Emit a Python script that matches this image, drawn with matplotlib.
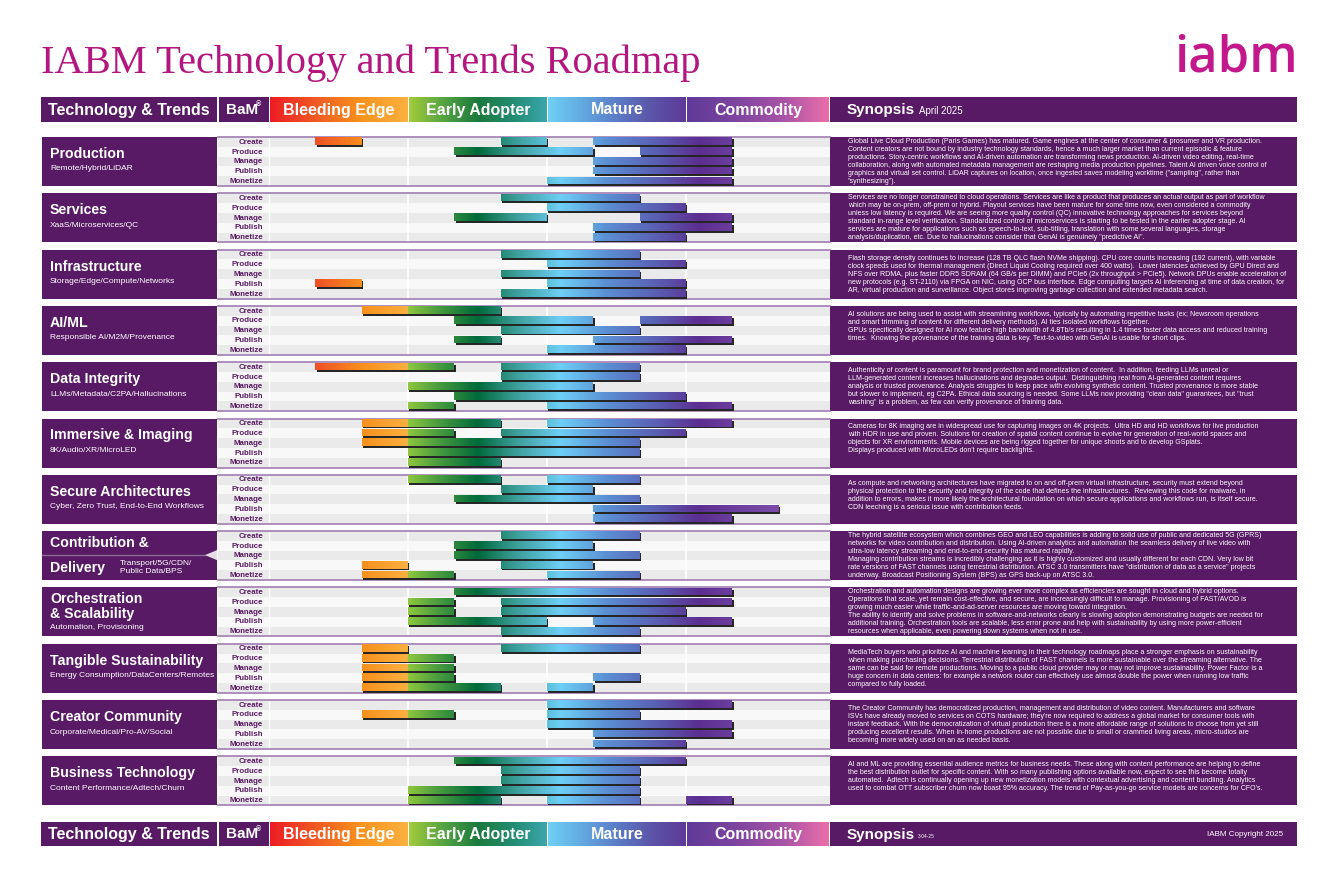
import numpy as np
import matplotlib.pyplot as plt
from matplotlib.colors import LinearSegmentedColormap
from matplotlib.patches import Rectangle, Polygon
from matplotlib.path import Path

plt.rcParams['font.family'] = ['Liberation Sans', 'DejaVu Sans']

title = "IABM Technology and Trends Roadmap"
stages = ["Bleeding Edge", "Early Adopter", "Mature", "Commodity"]
phases = ["Create", "Produce", "Manage", "Publish", "Monetize"]

categories = ["Production", "Services", "Infrastructure", "AI/ML", "Data Integrity",
              "Immersive & Imaging", "Secure Architectures", "Contribution &\nDelivery",
              "Orchestration\n& Scalability", "Tangible Sustainability",
              "Creator Community", "Business Technology"]
subtitles = ["Remote/Hybrid/LiDAR", "XaaS/Microservices/QC", "Storage/Edge/Compute/Networks",
             "Responsible AI/M2M/Provenance", "LLMs/Metadata/C2PA/Hallucinations",
             "8K/Audio/XR/MicroLED", "Cyber, Zero Trust, End-to-End Workflows",
             "Transport/5G/CDN/\nPublic Data/BPS", "Automation, Provisioning",
             "Energy Consumption/DataCenters/Remotes", "Corporate/Medical/Pro-AV/Social",
             "Content Performance/Adtech/Churn"]

# bar spans per phase, in thirds of a stage (0 = start of Bleeding Edge, 12 = end of Commodity)
production = [[(1, 2), (5, 6), (7, 10)], [(4, 7), (8, 10)], [(7, 10)], [(7, 10)], [(6, 10)]]
services = [[(5, 8)], [(6, 9)], [(4, 6), (8, 10)], [(7, 10)], [(7, 9)]]
infrastructure = [[(5, 8)], [(6, 9)], [(5, 8)], [(1, 2), (6, 9)], [(5, 9)]]
ai_ml = [[(2, 5)], [(4, 7), (8, 10)], [(5, 8)], [(4, 5), (7, 10)], [(6, 9)]]
data_integrity = [[(1, 4), (5, 8)], [(5, 8)], [(3, 7)], [(4, 9)], [(3, 4), (6, 10)]]
immersive = [[(2, 5), (6, 10)], [(2, 4), (5, 9)], [(2, 8)], [(3, 8)], [(3, 5)]]
secure = [[(3, 5), (6, 8)], [(5, 7)], [(4, 8)], [(7, 11)], [(7, 10)]]
contribution = [[(5, 8)], [(4, 7)], [(4, 8)], [(2, 3), (5, 7)], [(2, 4), (6, 8)]]
orchestration = [[(4, 10)], [(3, 4), (5, 10)], [(3, 4), (5, 9)], [(3, 6), (7, 10)], [(5, 8)]]
sustainability = [[(2, 3), (5, 8)], [(2, 4)], [(2, 4)], [(2, 4), (7, 8)], [(2, 5), (6, 7)]]
creator = [[(6, 10)], [(2, 4), (6, 8)], [(6, 10)], [(7, 10)], [(7, 9)]]
business = [[(4, 9)], [(5, 8)], [(5, 8)], [(3, 8)], [(3, 5), (6, 8), (9, 10)]]

all_bars = [production, services, infrastructure, ai_ml, data_integrity, immersive,
            secure, contribution, orchestration, sustainability, creator, business]

synopsis = [
    ["Global Live Cloud Production (Paris Games) has matured. Game engines at the center of consumer & prosumer and VR production.",
     "Content creators are not bound by industry technology standards, hence a much larger market than current episodic & feature",
     "productions. Story-centric workflows and AI-driven automation are transforming news production. AI-driven video editing, real-time",
     "collaboration, along with automated metadata management are reshaping media production pipelines. Talent AI driven voice control of",
     "graphics and virtual set control. LiDAR captures on location, once ingested saves modeling worktime (\"sampling\", rather than",
     "\"synthesizing\")."],
    ["Services are no longer constrained to cloud operations. Services are like a product that produces an actual output as part of workflow",
     "which may be on-prem, off-prem or hybrid. Playout services have been mature for some time now, even considered a commodity",
     "unless low latency is required. We are seeing more quality control (QC) innovative technology approaches for services beyond",
     "standard in-range level verification. Standardized control of microservices is starting to be tested in the earlier adopter stage. AI",
     "services are mature for applications such as speech-to-text, sub-titling, translation with some several languages, storage",
     "analysis/duplication, etc. Due to hallucinations consider that GenAI is genuinely \"predictive AI\"."],
    ["Flash storage density continues to increase (128 TB QLC flash NVMe shipping). CPU core counts increasing (192 current), with variable",
     "clock speeds used for thermal management (Direct Liquid Cooling required over 400 watts).  Lower latencies achieved by GPU Direct and",
     "NFS over RDMA, plus faster DDR5 SDRAM (64 GB/s per DIMM) and PCIe6 (2x throughput > PCIe5). Network DPUs enable acceleration of",
     "new protocols (e.g. ST-2110) via FPGA on NIC, using OCP bus interface. Edge computing targets AI inferencing at time of data creation, for",
     "AR, virtual production and surveillance. Object stores improving garbage collection and extended metadata search."],
    ["AI solutions are being used to assist with streamlining workflows, typically by automating repetitive tasks (ex; Newsroom operations",
     "and smart trimming of content for different delivery methods). AI ties isolated workflows together.",
     "GPUs specifically designed for AI now feature high bandwidth of 4.8Tb/s resulting in 1.4 times faster data access and reduced training",
     "times.  Knowing the provenance of the training data is key. Text-to-video with GenAI is usable for short clips."],
    ["Authenticity of content is paramount for brand protection and monetization of content.  In addition, feeding LLMs unreal or",
     "LLM-generated content increases hallucinations and degrades output.  Distinguishing real from AI-generated content requires",
     "analysis or trusted provenance. Analysis struggles to keep pace with evolving synthetic content. Trusted provenance is more stable",
     "but slower to implement, eg C2PA. Ethical data sourcing is needed. Some LLMs now providing \"clean data\" guarantees, but \"trust",
     "washing\" is a problem, as few can verify provenance of training data."],
    ["Cameras for 8K imaging are in widespread use for capturing images on 4K projects.  Ultra HD and HD workflows for live production",
     "with HDR in use and proven. Solutions for creation of spatial content continue to evolve for generation of real-world spaces and",
     "objects for XR environments. Mobile devices are being rigged together for unique shoots and to develop GSplats.",
     "Displays produced with MicroLEDs don't require backlights."],
    ["As compute and networking architectures have migrated to on and off-prem virtual infrastructure, security must extend beyond",
     "physical protection to the security and integrity of the code that defines the infrastructures.  Reviewing this code for malware, in",
     "addition to errors, makes it more likely the architectural foundation on which secure applications and workflows run, is itself secure.",
     "CDN leeching is a serious issue with contribution feeds."],
    ["The hybrid satellite ecosystem which combines GEO and LEO capabilities is adding to solid use of public and dedicated 5G (GPRS)",
     "networks for video contribution and distribution. Using AI-driven analytics and automation the seamless delivery of live video with",
     "ultra-low latency streaming and end-to-end security has matured rapidly.",
     "Managing contribution streams is incredibly challenging as it is highly customized and usually different for each CDN. Very low bit",
     "rate versions of FAST channels using terrestrial distribution. ATSC 3.0 transmitters have \"distribution of data as a service\" projects",
     "underway. Broadcast Positioning System (BPS) as GPS back-up on ATSC 3.0."],
    ["Orchestration and automation designs are growing ever more complex as efficiencies are sought in cloud and hybrid options.",
     "Operations that scale, yet remain cost-effective, and secure, are increasingly difficult to manage. Provisioning of FAST/AVOD is",
     "growing much easier while traffic-and-ad-server resources are moving toward integration.",
     "The ability to identify and solve problems in software-and-networks clearly is slowing adoption demonstrating budgets are needed for",
     "additional training. Orchestration tools are scalable, less error prone and help with sustainability by using more power-efficient",
     "resources when applicable, even powering down systems when not in use."],
    ["MediaTech buyers who prioritize AI and machine learning in their technology roadmaps place a stronger emphasis on sustainability",
     "when making purchasing decisions. Terrestrial distribution of FAST channels is more sustainable over the streaming alternative. The",
     "same can be said for remote productions. Moving to a public cloud provider may or may not improve sustainability. Power Factor is a",
     "huge concern in data centers: for example a network router can effectively use almost double the power when running low traffic",
     "compared to fully loaded."],
    ["The Creator Community has democratized production, management and distribution of video content. Manufacturers and software",
     "ISVs have already moved to services on COTS hardware; they're now required to address a global market for consumer tools with",
     "instant feedback. With the democratization of virtual production there is a more affordable range of solutions to choose from yet still",
     "producing excellent results. When in-home productions are not possible due to small or crammed living areas, micro-studios are",
     "becoming more widely used on an as needed basis."],
    ["AI and ML are providing essential audience metrics for business needs. These along with content performance are helping to define",
     "the best distribution outlet for specific content. With so many publishing options available now, expect to see this become totally",
     "automated.  Adtech is continually opening up new monetization models with contextual advertising and content bundling. Analytics",
     "used to combat OTT subscriber churn now boast 95% accuracy. The trend of Pay-as-you-go service models are concerns for CFO's."],
]

# colours
PURPLE = '#581a64'
MAGENTA = '#b3177f'
LABEL_C = '#5a1a64'
BORDER = '#a07db1'
STRIPES = ['#eaeaea', '#f8f8f8']

bar_cmap = LinearSegmentedColormap.from_list('bars', [
    (0, '#ed1c24'), (1 / 12, '#ef5126'), (2 / 12, '#f7901e'), (2.97 / 12, '#fbb040'),
    (3 / 12, '#8cc63f'), (3.7 / 12, '#44993e'), (4.5 / 12, '#006a3a'), (5.3 / 12, '#3a9c96'),
    (6.3 / 12, '#6dcff6'), (7.3 / 12, '#5b8fd3'), (8.3 / 12, '#5a62b6'), (9.3 / 12, '#5c2e91'),
    (10 / 12, '#6a3d9e'), (11 / 12, '#7c4ba8'), (1, '#8a55b0')])
stage_cmaps = [
    LinearSegmentedColormap.from_list('s0', ['#ed1c24', '#f15a24', '#f7941d', '#fbb040']),
    LinearSegmentedColormap.from_list('s1', ['#a3cb3b', '#55a443', '#1b7a3d', '#238b70', '#3ba6ad']),
    LinearSegmentedColormap.from_list('s2', ['#6fd0f5', '#62a9e0', '#5b7cc6', '#5b55a8', '#5e3a98']),
    LinearSegmentedColormap.from_list('s3', ['#5f3a98', '#7c449f', '#a653a6', '#ea6ea9']),
]

# layout in pixels
W, H = 1336, 876
BOX_L, BOX_R = 42, 217
LAB_L, LAB_R = 218, 269
BAR_L, BAR_R = 269, 825
STRIPE_R = 830
SYN_L, SYN_R = 830, 1297
TOP0, STEP, ROW_H = 137, 56.3, 9.8
BLOCK_H = ROW_H * len(phases)
STAGE_W = (BAR_R - BAR_L) / len(stages)

fig = plt.figure(figsize=(W / 100, H / 100), dpi=100)
ax = fig.add_axes([0, 0, 1, 1])
ax.set_xlim(0, W)
ax.set_ylim(H, 0)
ax.set_axis_off()

ax.text(41, 73, title, family=['Liberation Serif', 'DejaVu Serif'], fontsize=29.2,
        color=MAGENTA, va='baseline', ha='left')
ax.text(1298, 72, "iabm", family=['Open Sans', 'DejaVu Sans'], fontsize=36.5, fontweight='semibold',
        color='#c2188b', va='baseline', ha='right')


def header_row(y0, y1, footer=False):
    yc = (y0 + y1) / 2 + 0.5
    ax.add_patch(Rectangle((41, y0), BOX_R - 41, y1 - y0, color=PURPLE, lw=0))
    ax.add_patch(Rectangle((LAB_L + 1, y0), LAB_R - LAB_L - 1, y1 - y0, color=PURPLE, lw=0))
    ax.add_patch(Rectangle((SYN_L, y0), SYN_R - SYN_L, y1 - y0, color=PURPLE, lw=0))
    grad = np.linspace(0, 1, 256).reshape(1, -1)
    for k, name in enumerate(stages):
        x0 = BAR_L + k * STAGE_W + 1
        x1 = BAR_L + (k + 1) * STAGE_W if k < 3 else STRIPE_R - 1
        ax.imshow(grad, cmap=stage_cmaps[k], extent=[x0, x1, y1, y0], aspect='auto',
                  interpolation='bilinear', zorder=1)
        ax.text((x0 + x1) / 2, yc, name, color='white', fontsize=11.5, fontweight='bold',
                ha='center', va='center', zorder=3)
    ax.text((41 + BOX_R) / 2, yc, "Technology & Trends", color='white', fontsize=11.5,
            fontweight='bold', ha='center', va='center')
    ax.text(242, yc, "BaM", color='white', fontsize=11, fontweight='bold', ha='center', va='center')
    ax.text(259, yc - 5, "®", color='white', fontsize=5, fontweight='bold', ha='center', va='center')
    ax.text(847, yc, "Synopsis", color='white', fontsize=11, fontweight='bold', ha='left', va='center')
    if footer:
        ax.text(918, yc + 2, "3-04-25", color='white', fontsize=3.5, ha='left', va='center')
        ax.text(1283, yc, "IABM Copyright 2025", color='white', fontsize=5.8, ha='right', va='center')
    else:
        ax.text(919, yc + 1, "April 2025", color='white', fontsize=7, ha='left', va='center')


header_row(97, 122)
header_row(822, 846, footer=True)

for i, cat in enumerate(categories):
    top = TOP0 + i * STEP
    bot = top + BLOCK_H
    for j, ph in enumerate(phases):
        ax.add_patch(Rectangle((LAB_L, top + j * ROW_H), STRIPE_R - LAB_L, ROW_H,
                               color=STRIPES[j % 2], lw=0, zorder=0))
        ax.text(263, top + (j + 0.5) * ROW_H + 0.3, ph, color=LABEL_C, fontsize=5.7,
                fontweight='bold', ha='right', va='center')
    ax.plot([LAB_L, STRIPE_R], [top, top], color=BORDER, lw=1.2, zorder=2)
    ax.plot([LAB_L, STRIPE_R], [bot, bot], color=BORDER, lw=1.2, zorder=2)
    ax.plot([BAR_L, BAR_L], [top + 1, bot - 1], color='white', lw=1, zorder=1)
    for k in range(1, len(stages)):
        x = BAR_L + k * STAGE_W
        ax.plot([x, x], [top + 1, bot - 1], color='white', lw=1.2, zorder=1)
    ax.add_patch(Rectangle((BOX_L, top), BOX_R - BOX_L, BLOCK_H, color=PURPLE, lw=0, zorder=1))
    ax.add_patch(Rectangle((SYN_L, top), SYN_R - SYN_L, BLOCK_H, color=PURPLE, lw=0, zorder=1))

    if cat.startswith("Contribution"):
        first, second = cat.split("\n")
        ax.text(50, top + 12, first, color='white', fontsize=10.2, fontweight='bold', va='center', zorder=3)
        ax.text(50, top + 37, second, color='white', fontsize=10.2, fontweight='bold', va='center', zorder=3)
        ax.plot([BOX_L, BOX_R - 12], [top + 24, top + 24], color='#8d6a98', lw=1, zorder=2)
        ax.add_patch(Polygon([[BOX_R - 12, top + 24], [BOX_R, top + 19], [BOX_R, top + 29]],
                             color='#e4dde6', lw=0, zorder=2))
        for n, s in enumerate(subtitles[i].split("\n")):
            ax.text(120, top + 32 + n * 8, s, color='white', fontsize=6, va='center', zorder=3)
    elif "\n" in cat:
        ax.text(50, top + 19, cat, color='white', fontsize=10.2, fontweight='bold', va='center',
                linespacing=1.05, zorder=3)
        ax.text(50, top + 40, subtitles[i], color='white', fontsize=6, va='center', zorder=3)
    else:
        ax.text(50, top + 17, cat, color='white', fontsize=10.2, fontweight='bold', va='center', zorder=3)
        ax.text(50, top + 32, subtitles[i], color='white', fontsize=6, va='center', zorder=3)

    lines = synopsis[i]
    y_first = top + min(8.5, BLOCK_H / 2 - (len(lines) - 1) * 4)
    for n, line in enumerate(lines):
        ax.text(848, y_first + n * 8, line, color='white', fontsize=5, ha='left', va='center', zorder=3)

# bars axes in stage units
n_cat = len(categories)
span_px = (n_cat - 1) * STEP + BLOCK_H
total_rows = span_px / ROW_H
axb = fig.add_axes([BAR_L / W, 1 - (TOP0 + span_px) / H, (BAR_R - BAR_L) / W, span_px / H])
axb.patch.set_alpha(0)

verts, codes = [], []
for i, cat_bars in enumerate(all_bars):
    base = i * STEP / ROW_H
    for j, spans in enumerate(cat_bars):
        y = base + j + 0.04
        for a, b in spans:
            axb.barh(y + 0.2, b - a, left=a + 0.03, height=0.78, align='edge',
                     color='#262626', lw=0, zorder=2)
            bars = axb.barh(y, b - a, left=a, height=0.78, align='edge',
                            color='none', lw=0, zorder=3)
            for r in bars:
                x0, y0 = r.get_x(), r.get_y()
                x1, y1 = x0 + r.get_width(), y0 + r.get_height()
                verts += [(x0, y0), (x1, y0), (x1, y1), (x0, y1), (x0, y0)]
                codes += [Path.MOVETO, Path.LINETO, Path.LINETO, Path.LINETO, Path.CLOSEPOLY]

im = axb.imshow(np.linspace(0, 1, 1200).reshape(1, -1), cmap=bar_cmap,
                extent=[0, 12, total_rows, 0], aspect='auto', interpolation='bilinear', zorder=4)
im.set_clip_path(Path(verts, codes), axb.transData)
axb.set_xlim(0, 12)
axb.set_ylim(total_rows, 0)
axb.set_axis_off()

fig.savefig("out.png", dpi=100)
